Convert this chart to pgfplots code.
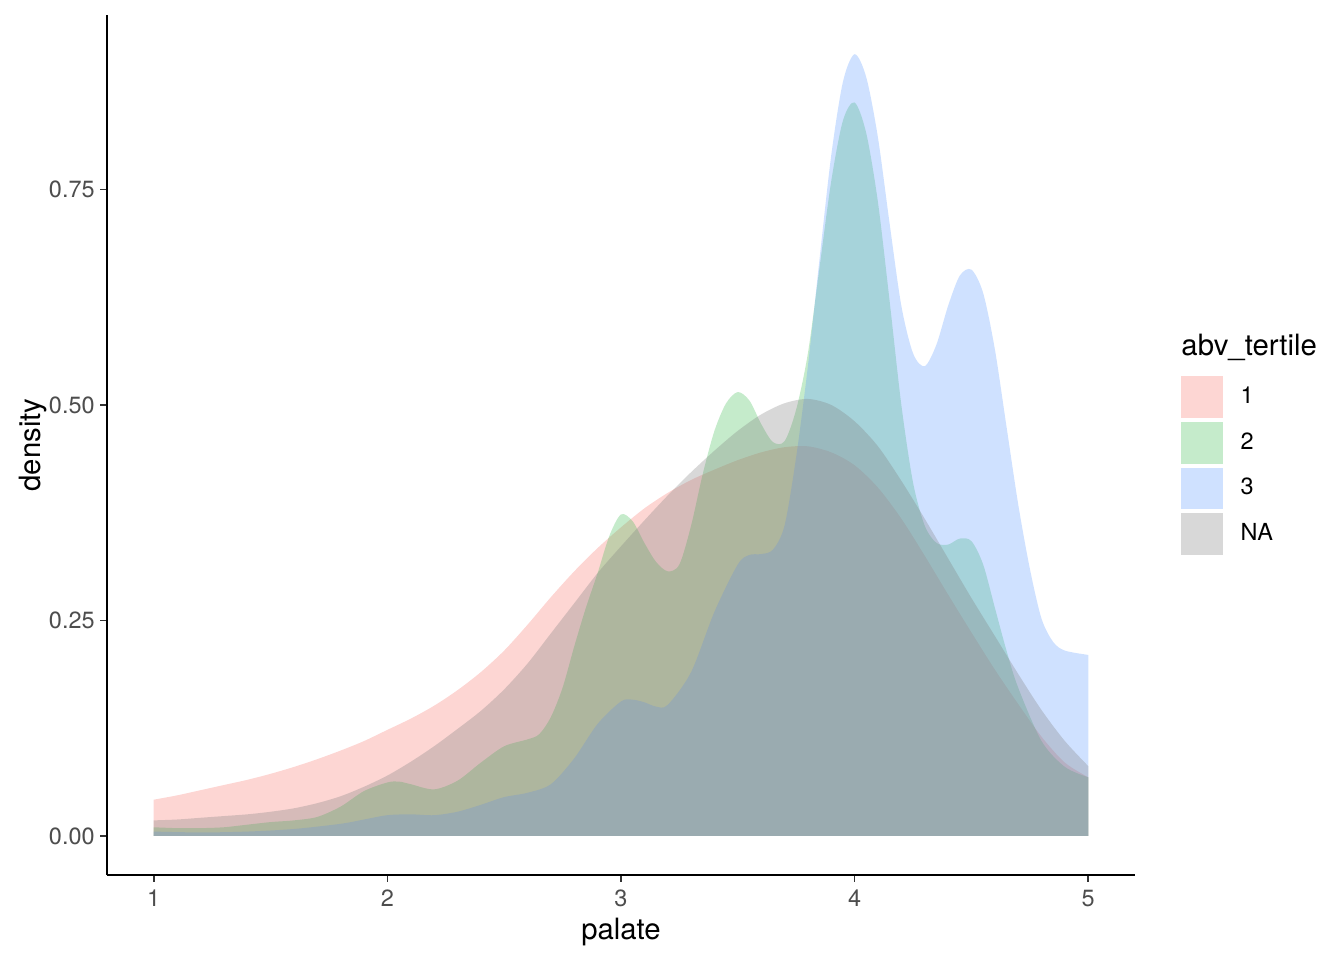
\documentclass[border=0pt]{standalone}
\usepackage{fontspec}
\setmainfont{TeX Gyre Heros}
\usepackage{pgfplots}
\pgfplotsset{compat=1.18}
\definecolor{c1}{HTML}{F8766D}
\definecolor{c2}{HTML}{3EBC52}
\definecolor{c3}{HTML}{619CFF}
\definecolor{cna}{HTML}{7F7F7F}
\definecolor{ticktext}{HTML}{4D4D4D}
\definecolor{tickline}{HTML}{333333}

\begin{document}
\begin{tikzpicture}
\path[use as bounding box] (-40.125pt,-31.875pt) rectangle (463.875pt,328.125pt);
\begin{axis}[
    width=385.5pt, height=322.5pt, scale only axis,
    xmin=0.8, xmax=5.2, ymin=-0.0454, ymax=0.9525,
    axis lines*=left,
    axis line style={line width=0.6pt, black},
    major tick style={line width=0.6pt, tickline},
    tick align=outside, major tick length=2.6pt,
    xtick={1,2,3,4,5}, ytick={0,0.25,0.5,0.75},
    /pgf/number format/assume math mode=true,
    yticklabel style={xshift=1.5pt, /pgf/number format/.cd, fixed, fixed zerofill, precision=2},
    xticklabel style={yshift=0.6pt},
    ticklabel style={font=\fontsize{8.8}{10}\selectfont, text=ticktext},
    label style={font=\fontsize{11}{13}\selectfont},
    xlabel=palate, ylabel=density,
    xlabel style={yshift=2.6pt},
    ylabel style={yshift=-6.2pt},
    legend style={name=leg, at={(1.0447,0.5803)}, anchor=north west, draw=none, fill=none,
        inner sep=0pt, row sep=1.5pt, column sep=6.4pt,
        font=\fontsize{8.8}{10}\selectfont, nodes={inner sep=0pt}},
    legend cell align=left,
    legend image code/.code={\fill[#1] (0pt,-7.8pt) rectangle (15.75pt,7.8pt);},
    every axis plot/.append style={draw=none, fill opacity=0.3, smooth},
]
% tertile 1
\addplot[fill=c1] coordinates {
 (1.0,0.042) (1.1,0.047) (1.2,0.053) (1.3,0.059) (1.4,0.065) (1.5,0.072)
 (1.6,0.080) (1.7,0.089) (1.8,0.099) (1.9,0.110) (2.0,0.123) (2.1,0.136)
 (2.2,0.151) (2.3,0.169) (2.4,0.190) (2.5,0.215) (2.6,0.245) (2.7,0.277)
 (2.8,0.307) (2.9,0.334) (3.0,0.358) (3.1,0.380) (3.2,0.398) (3.3,0.413)
 (3.4,0.425) (3.5,0.436) (3.6,0.445) (3.7,0.451) (3.8,0.452) (3.9,0.445)
 (4.0,0.430) (4.1,0.404) (4.2,0.368) (4.3,0.325) (4.4,0.280) (4.5,0.236)
 (4.6,0.193) (4.7,0.153) (4.8,0.115) (4.9,0.085) (5.0,0.068)
} \closedcycle;
\addlegendentry{1}
% tertile 2
\addplot[fill=c2] coordinates {
 (1.0,0.010) (1.1,0.009) (1.2,0.009) (1.3,0.010) (1.4,0.013) (1.5,0.016)
 (1.6,0.018) (1.7,0.022) (1.8,0.034) (1.9,0.052) (2.0,0.062) (2.05,0.063)
 (2.1,0.060) (2.2,0.054) (2.3,0.064) (2.4,0.085) (2.5,0.104) (2.6,0.112)
 (2.65,0.118) (2.7,0.138) (2.75,0.172) (2.8,0.220) (2.85,0.265) (2.9,0.305)
 (2.95,0.348) (3.0,0.373) (3.05,0.365) (3.1,0.340) (3.15,0.318) (3.2,0.307)
 (3.25,0.315) (3.3,0.360) (3.35,0.420) (3.4,0.470) (3.45,0.502) (3.5,0.515)
 (3.55,0.505) (3.6,0.478) (3.65,0.457) (3.7,0.458) (3.75,0.495) (3.8,0.560)
 (3.85,0.660) (3.9,0.760) (3.95,0.830) (4.0,0.851) (4.05,0.815) (4.1,0.735)
 (4.15,0.620) (4.2,0.500) (4.25,0.410) (4.3,0.360) (4.35,0.340) (4.4,0.338)
 (4.45,0.345) (4.5,0.342) (4.55,0.315) (4.6,0.265) (4.65,0.215) (4.7,0.172)
 (4.8,0.110) (4.9,0.080) (5.0,0.068)
} \closedcycle;
\addlegendentry{2}
% tertile 3
\addplot[fill=c3] coordinates {
 (1.0,0.005) (1.2,0.004) (1.4,0.005) (1.6,0.008) (1.8,0.014) (1.9,0.019)
 (2.0,0.024) (2.1,0.025) (2.2,0.024) (2.3,0.028) (2.4,0.036) (2.5,0.045)
 (2.6,0.050) (2.7,0.060) (2.8,0.090) (2.9,0.130) (3.0,0.156) (3.05,0.158)
 (3.1,0.155) (3.15,0.150) (3.2,0.152) (3.3,0.190) (3.4,0.260) (3.5,0.315)
 (3.55,0.326) (3.6,0.327) (3.65,0.332) (3.7,0.360) (3.75,0.440) (3.8,0.545)
 (3.85,0.670) (3.9,0.790) (3.95,0.875) (4.0,0.907) (4.05,0.880) (4.1,0.810)
 (4.15,0.710) (4.2,0.615) (4.25,0.560) (4.3,0.545) (4.35,0.570) (4.4,0.615)
 (4.45,0.650) (4.5,0.657) (4.55,0.630) (4.6,0.565) (4.65,0.475) (4.7,0.385)
 (4.75,0.310) (4.8,0.252) (4.85,0.225) (4.9,0.215) (5.0,0.210)
} \closedcycle;
\addlegendentry{3}
% NA
\addplot[fill=cna] coordinates {
 (1.0,0.018) (1.1,0.019) (1.2,0.021) (1.3,0.023) (1.4,0.025) (1.5,0.028)
 (1.6,0.032) (1.7,0.038) (1.8,0.046) (1.9,0.057) (2.0,0.070) (2.1,0.086)
 (2.2,0.104) (2.3,0.124) (2.4,0.145) (2.5,0.170) (2.6,0.200) (2.7,0.235)
 (2.8,0.270) (2.9,0.305) (3.0,0.336) (3.1,0.366) (3.2,0.395) (3.3,0.422)
 (3.4,0.447) (3.5,0.470) (3.6,0.489) (3.7,0.502) (3.8,0.507) (3.9,0.500)
 (4.0,0.481) (4.1,0.452) (4.2,0.412) (4.3,0.368) (4.4,0.322) (4.5,0.276)
 (4.6,0.232) (4.7,0.188) (4.8,0.146) (4.9,0.110) (5.0,0.081)
} \closedcycle;
\addlegendentry{NA}
\end{axis}
\node[anchor=base west, inner sep=0pt, font=\fontsize{11}{13}\selectfont]
    at ([yshift=7.5pt]leg.north west) {abv\_tertile};
\end{tikzpicture}
\end{document}
